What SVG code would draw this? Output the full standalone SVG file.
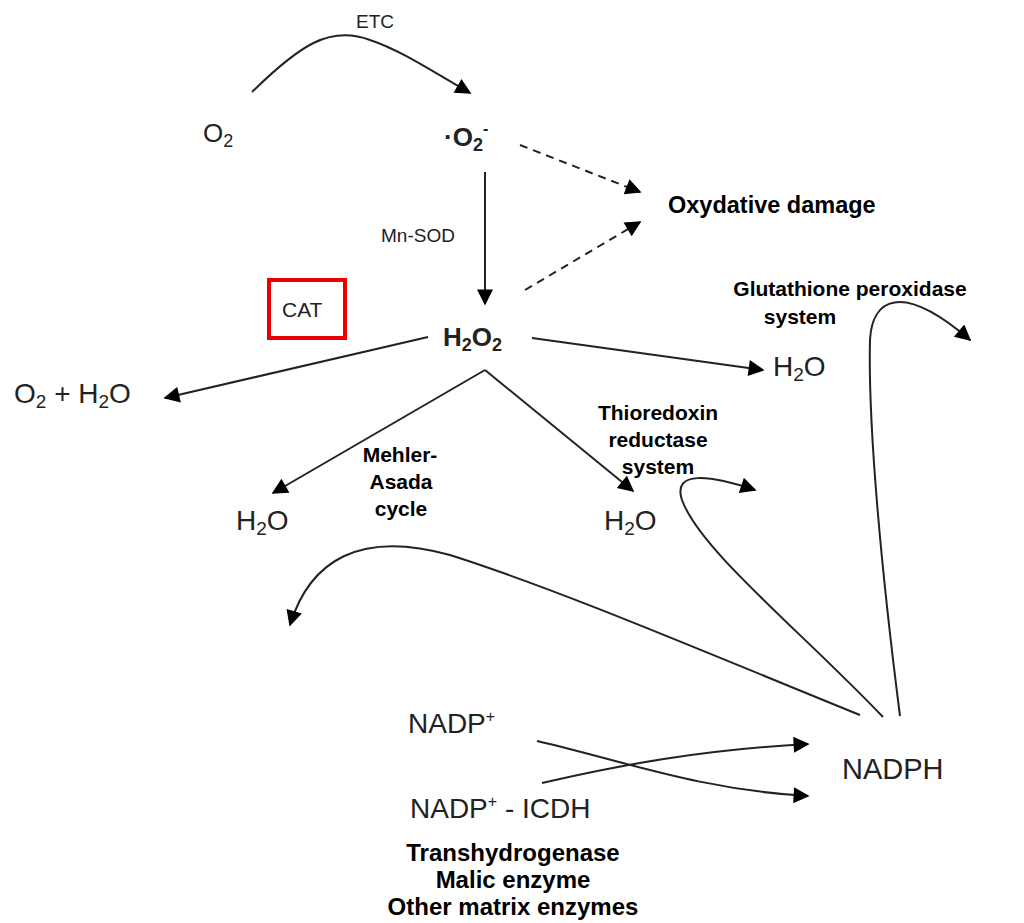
<svg xmlns="http://www.w3.org/2000/svg" width="1024" height="923" viewBox="0 0 1024 923">
<style>
.t{font-family:"Liberation Sans",Arial,sans-serif;fill:#222}
.b{font-family:"Liberation Sans",Arial,sans-serif;fill:#000;font-weight:bold}
.c{fill:none;stroke:#222;stroke-width:2}
.d{fill:none;stroke:#222;stroke-width:2;stroke-dasharray:8,6}
</style>
<defs><marker id="A" viewBox="0 0 10 10" refX="9" refY="5" markerWidth="20" markerHeight="16" markerUnits="userSpaceOnUse" orient="auto"><path d="M0,0L10,5L0,10z" fill="#000"/></marker></defs>
<rect width="1024" height="923" fill="#fff"/>
<g id="connectors">
<path class="c" d="M252,92 C300,45 330,25 370,40 C400,50 430,70 470,93" marker-end="url(#A)"/>
<path class="d" d="M520,145 L640,192" marker-end="url(#A)"/>
<path class="d" d="M525,290 L640,222" marker-end="url(#A)"/>
<path class="c" d="M485,172 L485,304" marker-end="url(#A)"/>
<path class="c" d="M428,337 L165,398" marker-end="url(#A)"/>
<path class="c" d="M532,338 L763,370" marker-end="url(#A)"/>
<path class="c" d="M485,370 L273,493" marker-end="url(#A)"/>
<path class="c" d="M485,370 L633,491" marker-end="url(#A)"/>
<path class="c" d="M860,715 C700,650 560,590 450,555 C360,530 310,560 290,625" marker-end="url(#A)"/>
<path class="c" d="M883,717 C800,630 700,550 682,500 C672,470 710,475 755,490" marker-end="url(#A)"/>
<path class="c" d="M900,716 C880,560 868,420 870,340 C872,300 900,280 970,340" marker-end="url(#A)"/>
<path class="c" d="M537,741 C620,760 700,790 808,796" marker-end="url(#A)"/>
<path class="c" d="M542,783 C620,765 700,750 808,744" marker-end="url(#A)"/>
</g>
<g id="etc"><text class="t" x="356" y="28" font-size="19">ETC</text></g>
<g id="o2"><text class="t" x="203" y="142" font-size="26">O<tspan font-size="18" dy="5">2</tspan></text></g>
<g id="sup"><text class="t" x="444" y="146" font-weight="bold" font-size="26">·O<tspan font-size="18" dy="5">2</tspan><tspan font-size="16" dy="-17">-</tspan></text></g>
<g id="damage"><text class="b" x="668" y="213" font-size="23.5">Oxydative damage</text></g>
<g id="mnsod"><text class="t" x="381" y="242" font-size="19">Mn-SOD</text></g>
<g id="cat"><rect x="269" y="280" width="76" height="58" fill="none" stroke="#e00" stroke-width="4"/><text class="t" x="282" y="317" font-size="21">CAT</text></g>
<g id="h2o2"><text class="t" x="443" y="346" font-weight="bold" font-size="26">H<tspan font-size="18" dy="5">2</tspan><tspan dy="-5">O</tspan><tspan font-size="18" dy="5">2</tspan></text></g>
<g id="o2h2o"><text class="t" x="14" y="403" font-size="28">O<tspan font-size="19" dy="5">2</tspan><tspan dy="-5"> + H</tspan><tspan font-size="19" dy="5">2</tspan><tspan dy="-5">O</tspan></text></g>
<g id="h2o-r"><text class="t" x="773" y="376" font-size="28">H<tspan font-size="19" dy="5">2</tspan><tspan dy="-5">O</tspan></text></g>
<g id="gpx"><text class="b" x="850" y="296" text-anchor="middle" font-size="21">Glutathione peroxidase</text><text class="b" x="800" y="324" text-anchor="middle" font-size="21">system</text></g>
<g id="trx"><text class="b" x="658" y="420" text-anchor="middle" font-size="21">Thioredoxin</text><text class="b" x="658" y="447" text-anchor="middle" font-size="21">reductase</text><text class="b" x="658" y="474" text-anchor="middle" font-size="21">system</text></g>
<g id="mehler"><text class="b" x="400" y="462" text-anchor="middle" font-size="21">Mehler-</text><text class="b" x="401" y="489" text-anchor="middle" font-size="21">Asada</text><text class="b" x="401" y="516" text-anchor="middle" font-size="21">cycle</text></g>
<g id="h2o-l"><text class="t" x="236" y="530" font-size="28">H<tspan font-size="19" dy="5">2</tspan><tspan dy="-5">O</tspan></text></g>
<g id="h2o-m"><text class="t" x="604" y="530" font-size="28">H<tspan font-size="19" dy="5">2</tspan><tspan dy="-5">O</tspan></text></g>
<g id="nadp"><text class="t" x="408" y="733" font-size="28">NADP<tspan font-size="16" dy="-11">+</tspan></text></g>
<g id="icdh"><text class="t" x="410" y="818" font-size="28">NADP<tspan font-size="16" dy="-11">+</tspan><tspan dy="11"> - ICDH</tspan></text></g>
<g id="nadph"><text class="t" x="842" y="779" font-size="29">NADPH</text></g>
<g id="enz"><text class="b" x="513" y="861" text-anchor="middle" font-size="24">Transhydrogenase</text><text class="b" x="513" y="888" text-anchor="middle" font-size="24">Malic enzyme</text><text class="b" x="513" y="915" text-anchor="middle" font-size="24">Other matrix enzymes</text></g>
</svg>
